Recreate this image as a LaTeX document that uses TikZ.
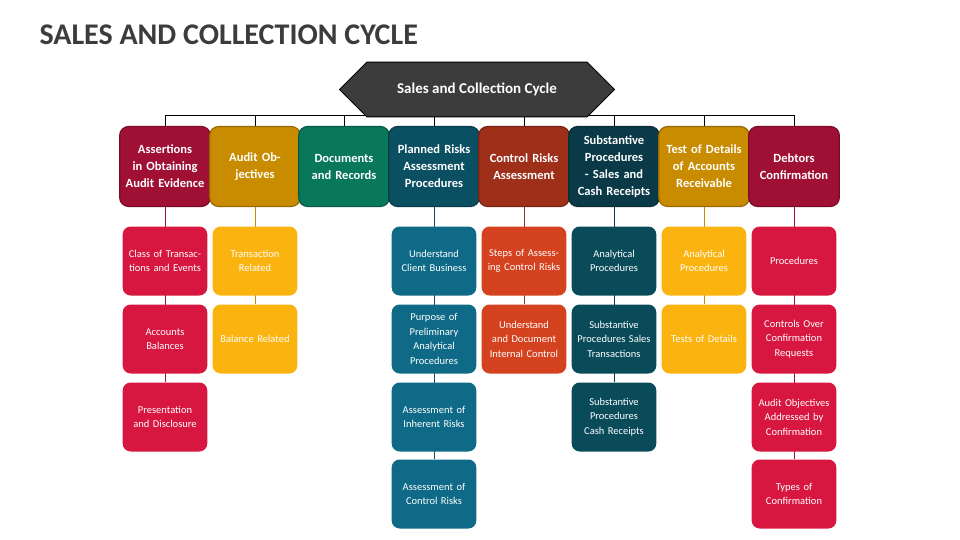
\documentclass[tikz,border=0pt]{standalone}
\usepackage{fontspec}
\setmainfont{Carlito}
\usetikzlibrary{backgrounds,shapes.misc}
\definecolor{redH}{HTML}{A01035}\definecolor{redC}{HTML}{D7173F}
\definecolor{goldH}{HTML}{C98C00}\definecolor{goldC}{HTML}{FBB40F}
\definecolor{greenH}{HTML}{08775A}
\definecolor{tealH}{HTML}{0B4F63}\definecolor{tealC}{HTML}{0E6A86}
\definecolor{orH}{HTML}{9E301A}\definecolor{orC}{HTML}{D4421F}
\definecolor{navH}{HTML}{0A3A48}\definecolor{navC}{HTML}{0A4B5A}
\definecolor{ttl}{HTML}{3C3C3C}
\tikzset{
 hd/.style={draw=#1!75!black,fill=#1,line width=1.2pt,rounded corners=9pt,minimum width=86pt,minimum height=80pt,text width=84pt,align=center,text=white,font=\fontsize{12.5}{17}\selectfont\bfseries},
 ch/.style={fill=#1,rounded corners=8pt,minimum width=82pt,minimum height=69pt,text width=78pt,align=center,text=white,font=\fontsize{10.5}{14.5}\selectfont},
 ln/.style={line width=0.8pt},
}
\begin{document}
\begin{tikzpicture}[x=1pt,y=-1pt]
\useasboundingbox (0,0) rectangle (960,540);
\node[anchor=west,text=ttl,font=\fontsize{30}{32}\selectfont\bfseries] (title) at (36,35) {SALES AND COLLECTION CYCLE};
\node[fill=ttl,draw=black,line width=1pt,minimum width=275pt,minimum height=35pt,chamfered rectangle,chamfered rectangle xsep=12pt,chamfered rectangle ysep=17.5pt,chamfered rectangle corners={north west,south west,north east,south east},text=white,font=\fontsize{15}{17}\selectfont\bfseries,inner xsep=2pt] (top) at (477,89.5) {Sales and Collection Cycle};
\coordinate (bar) at (477,115);
\foreach \n/\x/\c/\t in {a/165/redH/{Assertions in Obtaining Audit Evidence},b/255/goldH/{Audit Objectives},c/344/greenH/{Documents and Records},d/434/tealH/{Planned Risks Assessment Procedures},e/524/orH/{Control Risks Assessment},f/614/navH/{Substantive Procedures - Sales and Cash Receipts},g/704/goldH/{Test of Details of Accounts Receivable},h/794/redH/{Debtors Confirmation}}{
 \node[hd=\c] (\n) at (\x,166.5) {\t};
 \coordinate (\n t) at (\x,115);
}
\def\yA{261}\def\yB{339}\def\yC{417}\def\yD{494}
\node[ch=redC] (a1) at (165,\yA) {Class of Transactions and Events};
\node[ch=redC] (a2) at (165,\yB) {Accounts Balances};
\node[ch=redC] (a3) at (165,\yC) {Presentation and Disclosure};
\node[ch=goldC] (b1) at (255,\yA) {Transaction Related};
\node[ch=goldC] (b2) at (255,\yB) {Balance Related};
\node[ch=tealC] (d1) at (434,\yA) {Understand Client Business};
\node[ch=tealC] (d2) at (434,\yB) {Purpose of Preliminary Analytical Procedures};
\node[ch=tealC] (d3) at (434,\yC) {Assessment of Inherent Risks};
\node[ch=tealC] (d4) at (434,\yD) {Assessment of Control Risks};
\node[ch=orC] (e1) at (524,\yA) {Steps of Assessing Control Risks};
\node[ch=orC] (e2) at (524,\yB) {Understand and Document Internal Control};
\node[ch=navC] (f1) at (614,\yA) {Analytical Procedures};
\node[ch=navC] (f2) at (614,\yB) {Substantive Procedures Sales Transactions};
\node[ch=navC] (f3) at (614,\yC) {Substantive Procedures Cash Receipts};
\node[ch=goldC] (g1) at (704,\yA) {Analytical Procedures};
\node[ch=goldC] (g2) at (704,\yB) {Tests of Details};
\node[ch=redC] (h1) at (794,\yA) {Procedures};
\node[ch=redC] (h2) at (794,\yB) {Controls Over Confirmation Requests};
\node[ch=redC] (h3) at (794,\yC) {Audit Objectives Addressed by Confirmation};
\node[ch=redC] (h4) at (794,\yD) {Types of Confirmation};
\begin{scope}[on background layer]
\draw[ln] (at) -- (ht);
\draw[ln] (top.south) -- (bar);
\foreach \n in {a,b,c,d,e,f,g,h} \draw[ln] (\n t) -- (\n.north);
\draw[ln,draw=redH] (a.south) -- (a3.north);
\draw[ln,draw=goldH] (b.south) -- (b2.north);
\draw[ln,draw=tealH] (d.south) -- (d4.north);
\draw[ln,draw=orH] (e.south) -- (e2.north);
\draw[ln,draw=navH] (f.south) -- (f3.north);
\draw[ln,draw=goldH] (g.south) -- (g2.north);
\draw[ln,draw=redH] (h.south) -- (h4.north);
\end{scope}
\end{tikzpicture}
\end{document}
